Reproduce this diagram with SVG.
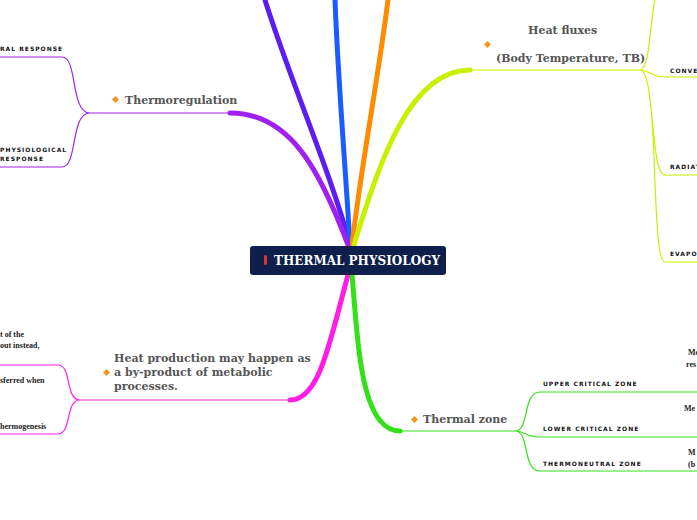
<svg xmlns="http://www.w3.org/2000/svg" width="697" height="520" viewBox="0 0 697 520">
<style>
.t{font-family:"DejaVu Serif",serif;font-size:11px;fill:#555;font-weight:bold}
.c{font-family:"DejaVu Sans",sans-serif;font-size:6px;font-weight:bold;fill:#111;letter-spacing:1px}
.s{font-family:"Liberation Serif",serif;font-size:8px;font-weight:bold;fill:#222}
.th{fill:none;stroke-linecap:round}
.l{fill:none;stroke-width:1.2}
.d{fill:#f7941d}
</style>
<g id="connectors">
<path class="th" d="M350 245 C330 170 290 80 265 0" stroke="#5a1ef0" stroke-width="5"/>
<path class="th" d="M350 245 C345 160 338 80 335 0" stroke="#1a5cff" stroke-width="5"/>
<path class="th" d="M352 245 C362 160 378 80 388 0" stroke="#ff8c00" stroke-width="5"/>
<path class="th" d="M348 245 C320 170 290 113 230 113" stroke="#a020f0" stroke-width="5"/>
<path class="th" d="M354 245 C380 160 410 70 470 70" stroke="#c8f000" stroke-width="5"/>
<path class="th" d="M348 275 C330 340 320 400 290 400" stroke="#ff1ee6" stroke-width="5"/>
<path class="th" d="M352 275 C358 340 360 431 400 431" stroke="#33e01a" stroke-width="5"/>
<path class="l" stroke="#a020f0" d="M230 113 H90 C70 113 78 57 62 57 H0 M90 113 C70 113 78 167 62 167 H0"/>
<path class="l" stroke="#c8f000" d="M470 70 H640 C650 70 650 20 655 0 M640 70 C650 70 650 77 665 77 H697 M640 70 C655 70 650 175 665 175 H697 M640 70 C660 70 650 262 665 262 H697"/>
<path class="l" stroke="#ff1ee6" d="M290 400 H80 C65 400 72 365 58 365 H0 M80 400 C65 400 72 434 58 434 H0"/>
<path class="l" stroke="#33e01a" d="M400 431 H515 C530 431 522 392 540 392 H697 M515 431 C525 431 525 437 540 437 H697 M515 431 C530 431 522 471 540 471 H697"/>
</g>
<g id="center"><rect x="250" y="246" width="196" height="29" rx="3" fill="#0d1f4a"/>
<rect x="264" y="255" width="3" height="10" rx="1.5" fill="#d33"/>
<text x="274" y="265" font-family="DejaVu Serif,serif" font-size="12" font-weight="bold" fill="#fff">THERMAL PHYSIOLOGY</text></g>
<g id="thermoregulation"><rect class="d" x="113" y="97" width="5" height="5" transform="rotate(45 115.5 99.5)"/><text class="t" x="125" y="104">Thermoregulation</text></g>
<g id="behav"><text class="c" x="0" y="51">RAL RESPONSE</text></g>
<g id="phys"><text class="c" x="0" y="152">PHYSIOLOGICAL</text><text class="c" x="0" y="161">RESPONSE</text></g>
<g id="heatfluxes"><rect class="d" x="485" y="42" width="5" height="5" transform="rotate(45 487.5 44.5)"/><text class="t" x="528" y="34">Heat fluxes</text><text class="t" x="496" y="62">(Body Temperature, TB)</text></g>
<g id="conv"><text class="c" x="670" y="73">CONVE</text></g>
<g id="rad"><text class="c" x="670" y="169">RADIAT</text></g>
<g id="evap"><text class="c" x="670" y="256">EVAPO</text></g>
<g id="heatprod"><rect class="d" x="104" y="370" width="5" height="5" transform="rotate(45 106.5 372.5)"/>
<text class="t" x="114" y="362">Heat production may happen as</text><text class="t" x="114" y="376">a by-product of metabolic</text><text class="t" x="114" y="390">processes.</text></g>
<g id="hp1"><text class="s" x="0" y="337">t of the</text><text class="s" x="0" y="348">out instead,</text></g>
<g id="hp2"><text class="s" x="0" y="383">sferred when</text></g>
<g id="hp3"><text class="s" x="0" y="429">hermogenesis</text></g>
<g id="thermalzone"><rect class="d" x="412" y="417" width="5" height="5" transform="rotate(45 414.5 419.5)"/><text class="t" x="423" y="423">Thermal zone</text></g>
<g id="ucz"><text class="c" x="543" y="386">UPPER CRITICAL ZONE</text><text class="s" x="688" y="355">Me</text><text class="s" x="686" y="367">res</text></g>
<g id="lcz"><text class="c" x="543" y="431">LOWER CRITICAL ZONE</text><text class="s" x="684" y="411">Me</text></g>
<g id="tnz"><text class="c" x="543" y="466">THERMONEUTRAL ZONE</text><text class="s" x="688" y="455">M</text><text class="s" x="688" y="467">(b</text></g>
</svg>
